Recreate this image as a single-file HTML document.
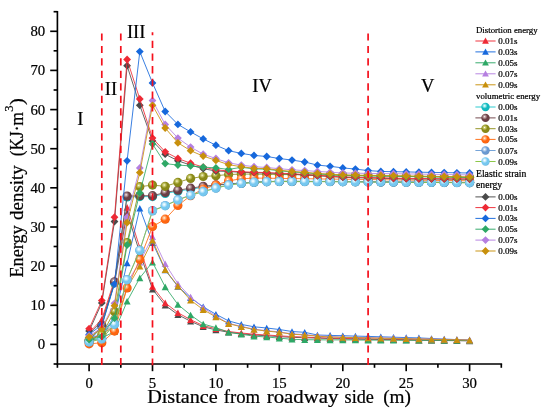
<!DOCTYPE html>
<html><head><meta charset="utf-8"><title>Energy density chart</title>
<style>html,body{margin:0;padding:0;background:#fff}body{width:550px;height:412px;overflow:hidden}</style></head>
<body>
<svg width="550" height="412" viewBox="0 0 550 412" style="display:block">
<defs>
<radialGradient id="g00" cx="0.39" cy="0.36" r="0.68"><stop offset="0" stop-color="#ffffff"/><stop offset="0.14" stop-color="#b8f4f4"/><stop offset="0.5" stop-color="#12b9bf"/><stop offset="0.8" stop-color="#12b9bf"/><stop offset="1" stop-color="#0fa2a8"/></radialGradient>
<radialGradient id="g01" cx="0.39" cy="0.36" r="0.68"><stop offset="0" stop-color="#ffffff"/><stop offset="0.14" stop-color="#c9aeb0"/><stop offset="0.5" stop-color="#6b3f45"/><stop offset="0.8" stop-color="#6b3f45"/><stop offset="1" stop-color="#5e373c"/></radialGradient>
<radialGradient id="g03" cx="0.39" cy="0.36" r="0.68"><stop offset="0" stop-color="#ffffff"/><stop offset="0.14" stop-color="#d6d67e"/><stop offset="0.5" stop-color="#8a8a18"/><stop offset="0.8" stop-color="#8a8a18"/><stop offset="1" stop-color="#797915"/></radialGradient>
<radialGradient id="g05" cx="0.39" cy="0.36" r="0.68"><stop offset="0" stop-color="#ffffff"/><stop offset="0.14" stop-color="#ffc89a"/><stop offset="0.5" stop-color="#ff6510"/><stop offset="0.8" stop-color="#ff6510"/><stop offset="1" stop-color="#e0580e"/></radialGradient>
<radialGradient id="g07" cx="0.39" cy="0.36" r="0.68"><stop offset="0" stop-color="#ffffff"/><stop offset="0.14" stop-color="#d4e4f6"/><stop offset="0.5" stop-color="#6a9ad2"/><stop offset="0.8" stop-color="#6a9ad2"/><stop offset="1" stop-color="#5d87b8"/></radialGradient>
<radialGradient id="g09" cx="0.39" cy="0.36" r="0.68"><stop offset="0" stop-color="#ffffff"/><stop offset="0.14" stop-color="#e4f6fe"/><stop offset="0.5" stop-color="#76c8f0"/><stop offset="0.8" stop-color="#76c8f0"/><stop offset="1" stop-color="#67b0d3"/></radialGradient>
</defs>
<rect width="550" height="412" fill="#fff"/>
<polyline points="89.1,334.2 101.8,321.3 114.5,283.3 127.1,212.9 139.8,252.8 152.5,289.2 165.2,305.3 177.9,314.7 190.6,321.3 203.2,326.8 215.9,329.9 228.6,332.3 241.3,333.8 254.0,335.0 266.7,335.8 279.3,336.6 292.0,337.4 304.7,337.7 317.4,338.1 330.1,338.5 342.8,338.9 355.4,339.1 368.1,339.3 380.8,339.5 393.5,339.7 406.2,339.9 418.9,340.1 431.5,340.3 444.2,340.5 456.9,340.7 469.6,340.9" fill="none" stroke="#4a4a4a" stroke-width="0.85" stroke-linejoin="round"/>
<path d="M89.1,330.9L92.6,337.5L85.6,337.5Z" fill="#4a4a4a"/>
<path d="M101.8,318.0L105.3,324.6L98.3,324.6Z" fill="#4a4a4a"/>
<path d="M114.5,280.0L118.0,286.6L111.0,286.6Z" fill="#4a4a4a"/>
<path d="M127.1,209.6L130.6,216.2L123.6,216.2Z" fill="#4a4a4a"/>
<path d="M139.8,249.5L143.3,256.1L136.3,256.1Z" fill="#4a4a4a"/>
<path d="M152.5,285.9L156.0,292.5L149.0,292.5Z" fill="#4a4a4a"/>
<path d="M165.2,302.0L168.7,308.6L161.7,308.6Z" fill="#4a4a4a"/>
<path d="M177.9,311.4L181.4,318.0L174.4,318.0Z" fill="#4a4a4a"/>
<path d="M190.6,318.0L194.1,324.6L187.1,324.6Z" fill="#4a4a4a"/>
<path d="M203.2,323.5L206.7,330.1L199.7,330.1Z" fill="#4a4a4a"/>
<path d="M215.9,326.6L219.4,333.2L212.4,333.2Z" fill="#4a4a4a"/>
<path d="M228.6,329.0L232.1,335.6L225.1,335.6Z" fill="#4a4a4a"/>
<path d="M241.3,330.5L244.8,337.1L237.8,337.1Z" fill="#4a4a4a"/>
<path d="M254.0,331.7L257.5,338.3L250.5,338.3Z" fill="#4a4a4a"/>
<path d="M266.7,332.5L270.2,339.1L263.2,339.1Z" fill="#4a4a4a"/>
<path d="M279.3,333.3L282.8,339.9L275.8,339.9Z" fill="#4a4a4a"/>
<path d="M292.0,334.1L295.5,340.7L288.5,340.7Z" fill="#4a4a4a"/>
<path d="M304.7,334.4L308.2,341.0L301.2,341.0Z" fill="#4a4a4a"/>
<path d="M317.4,334.8L320.9,341.4L313.9,341.4Z" fill="#4a4a4a"/>
<path d="M330.1,335.2L333.6,341.8L326.6,341.8Z" fill="#4a4a4a"/>
<path d="M342.8,335.6L346.3,342.2L339.3,342.2Z" fill="#4a4a4a"/>
<path d="M355.4,335.8L358.9,342.4L351.9,342.4Z" fill="#4a4a4a"/>
<path d="M368.1,336.0L371.6,342.6L364.6,342.6Z" fill="#4a4a4a"/>
<path d="M380.8,336.2L384.3,342.8L377.3,342.8Z" fill="#4a4a4a"/>
<path d="M393.5,336.4L397.0,343.0L390.0,343.0Z" fill="#4a4a4a"/>
<path d="M406.2,336.6L409.7,343.2L402.7,343.2Z" fill="#4a4a4a"/>
<path d="M418.9,336.8L422.4,343.4L415.4,343.4Z" fill="#4a4a4a"/>
<path d="M431.5,337.0L435.0,343.6L428.0,343.6Z" fill="#4a4a4a"/>
<path d="M444.2,337.2L447.7,343.8L440.7,343.8Z" fill="#4a4a4a"/>
<path d="M456.9,337.4L460.4,344.0L453.4,344.0Z" fill="#4a4a4a"/>
<path d="M469.6,337.6L473.1,344.2L466.1,344.2Z" fill="#4a4a4a"/>
<polyline points="89.1,332.7 101.8,319.4 114.5,279.8 127.1,207.4 139.8,247.7 152.5,286.5 165.2,302.9 177.9,312.7 190.6,319.7 203.2,325.6 215.9,328.7 228.6,331.5 241.3,333.0 254.0,334.2 266.7,335.0 279.3,335.8 292.0,336.6 304.7,337.0 317.4,337.7 330.1,338.1 342.8,338.4 355.4,338.7 368.1,338.9 380.8,339.2 393.5,339.4 406.2,339.7 418.9,339.9 431.5,340.0 444.2,340.2 456.9,340.3 469.6,340.5" fill="none" stroke="#ee2a35" stroke-width="0.85" stroke-linejoin="round"/>
<path d="M89.1,329.4L92.6,336.0L85.6,336.0Z" fill="#ee2a35"/>
<path d="M101.8,316.1L105.3,322.7L98.3,322.7Z" fill="#ee2a35"/>
<path d="M114.5,276.5L118.0,283.1L111.0,283.1Z" fill="#ee2a35"/>
<path d="M127.1,204.1L130.6,210.7L123.6,210.7Z" fill="#ee2a35"/>
<path d="M139.8,244.4L143.3,251.0L136.3,251.0Z" fill="#ee2a35"/>
<path d="M152.5,283.2L156.0,289.8L149.0,289.8Z" fill="#ee2a35"/>
<path d="M165.2,299.6L168.7,306.2L161.7,306.2Z" fill="#ee2a35"/>
<path d="M177.9,309.4L181.4,316.0L174.4,316.0Z" fill="#ee2a35"/>
<path d="M190.6,316.4L194.1,323.0L187.1,323.0Z" fill="#ee2a35"/>
<path d="M203.2,322.3L206.7,328.9L199.7,328.9Z" fill="#ee2a35"/>
<path d="M215.9,325.4L219.4,332.0L212.4,332.0Z" fill="#ee2a35"/>
<path d="M228.6,328.2L232.1,334.8L225.1,334.8Z" fill="#ee2a35"/>
<path d="M241.3,329.7L244.8,336.3L237.8,336.3Z" fill="#ee2a35"/>
<path d="M254.0,330.9L257.5,337.5L250.5,337.5Z" fill="#ee2a35"/>
<path d="M266.7,331.7L270.2,338.3L263.2,338.3Z" fill="#ee2a35"/>
<path d="M279.3,332.5L282.8,339.1L275.8,339.1Z" fill="#ee2a35"/>
<path d="M292.0,333.3L295.5,339.9L288.5,339.9Z" fill="#ee2a35"/>
<path d="M304.7,333.7L308.2,340.3L301.2,340.3Z" fill="#ee2a35"/>
<path d="M317.4,334.4L320.9,341.0L313.9,341.0Z" fill="#ee2a35"/>
<path d="M330.1,334.8L333.6,341.4L326.6,341.4Z" fill="#ee2a35"/>
<path d="M342.8,335.1L346.3,341.7L339.3,341.7Z" fill="#ee2a35"/>
<path d="M355.4,335.4L358.9,342.0L351.9,342.0Z" fill="#ee2a35"/>
<path d="M368.1,335.6L371.6,342.2L364.6,342.2Z" fill="#ee2a35"/>
<path d="M380.8,335.9L384.3,342.5L377.3,342.5Z" fill="#ee2a35"/>
<path d="M393.5,336.1L397.0,342.7L390.0,342.7Z" fill="#ee2a35"/>
<path d="M406.2,336.4L409.7,343.0L402.7,343.0Z" fill="#ee2a35"/>
<path d="M418.9,336.6L422.4,343.2L415.4,343.2Z" fill="#ee2a35"/>
<path d="M431.5,336.7L435.0,343.3L428.0,343.3Z" fill="#ee2a35"/>
<path d="M444.2,336.9L447.7,343.5L440.7,343.5Z" fill="#ee2a35"/>
<path d="M456.9,337.0L460.4,343.6L453.4,343.6Z" fill="#ee2a35"/>
<path d="M469.6,337.2L473.1,343.8L466.1,343.8Z" fill="#ee2a35"/>
<polyline points="89.1,338.5 101.8,334.6 114.5,317.0 127.1,263.0 139.8,208.2 152.5,242.6 165.2,270.0 177.9,286.5 190.6,297.8 203.2,306.8 215.9,314.3 228.6,320.9 241.3,324.4 254.0,326.8 266.7,328.0 279.3,329.5 292.0,331.5 304.7,332.3 317.4,335.0 330.1,335.4 342.8,335.7 355.4,336.1 368.1,336.4 380.8,336.8 393.5,337.2 406.2,337.6 418.9,337.9 431.5,338.5 444.2,339.1 456.9,339.6 469.6,340.1" fill="none" stroke="#1668dc" stroke-width="0.85" stroke-linejoin="round"/>
<path d="M89.1,335.2L92.6,341.8L85.6,341.8Z" fill="#1668dc"/>
<path d="M101.8,331.3L105.3,337.9L98.3,337.9Z" fill="#1668dc"/>
<path d="M114.5,313.7L118.0,320.3L111.0,320.3Z" fill="#1668dc"/>
<path d="M127.1,259.7L130.6,266.3L123.6,266.3Z" fill="#1668dc"/>
<path d="M139.8,204.9L143.3,211.5L136.3,211.5Z" fill="#1668dc"/>
<path d="M152.5,239.3L156.0,245.9L149.0,245.9Z" fill="#1668dc"/>
<path d="M165.2,266.7L168.7,273.3L161.7,273.3Z" fill="#1668dc"/>
<path d="M177.9,283.2L181.4,289.8L174.4,289.8Z" fill="#1668dc"/>
<path d="M190.6,294.5L194.1,301.1L187.1,301.1Z" fill="#1668dc"/>
<path d="M203.2,303.5L206.7,310.1L199.7,310.1Z" fill="#1668dc"/>
<path d="M215.9,311.0L219.4,317.6L212.4,317.6Z" fill="#1668dc"/>
<path d="M228.6,317.6L232.1,324.2L225.1,324.2Z" fill="#1668dc"/>
<path d="M241.3,321.1L244.8,327.7L237.8,327.7Z" fill="#1668dc"/>
<path d="M254.0,323.5L257.5,330.1L250.5,330.1Z" fill="#1668dc"/>
<path d="M266.7,324.7L270.2,331.3L263.2,331.3Z" fill="#1668dc"/>
<path d="M279.3,326.2L282.8,332.8L275.8,332.8Z" fill="#1668dc"/>
<path d="M292.0,328.2L295.5,334.8L288.5,334.8Z" fill="#1668dc"/>
<path d="M304.7,329.0L308.2,335.6L301.2,335.6Z" fill="#1668dc"/>
<path d="M317.4,331.7L320.9,338.3L313.9,338.3Z" fill="#1668dc"/>
<path d="M330.1,332.1L333.6,338.7L326.6,338.7Z" fill="#1668dc"/>
<path d="M342.8,332.4L346.3,339.0L339.3,339.0Z" fill="#1668dc"/>
<path d="M355.4,332.8L358.9,339.4L351.9,339.4Z" fill="#1668dc"/>
<path d="M368.1,333.1L371.6,339.7L364.6,339.7Z" fill="#1668dc"/>
<path d="M380.8,333.5L384.3,340.1L377.3,340.1Z" fill="#1668dc"/>
<path d="M393.5,333.9L397.0,340.5L390.0,340.5Z" fill="#1668dc"/>
<path d="M406.2,334.3L409.7,340.9L402.7,340.9Z" fill="#1668dc"/>
<path d="M418.9,334.6L422.4,341.2L415.4,341.2Z" fill="#1668dc"/>
<path d="M431.5,335.2L435.0,341.8L428.0,341.8Z" fill="#1668dc"/>
<path d="M444.2,335.8L447.7,342.4L440.7,342.4Z" fill="#1668dc"/>
<path d="M456.9,336.3L460.4,342.9L453.4,342.9Z" fill="#1668dc"/>
<path d="M469.6,336.8L473.1,343.4L466.1,343.4Z" fill="#1668dc"/>
<polyline points="89.1,340.5 101.8,338.1 114.5,331.5 127.1,301.3 139.8,277.9 152.5,262.2 165.2,286.9 177.9,304.5 190.6,315.0 203.2,324.0 215.9,327.6 228.6,332.3 241.3,334.2 254.0,336.2 266.7,337.0 279.3,338.1 292.0,339.3 304.7,339.7 317.4,339.8 330.1,339.9 342.8,339.9 355.4,340.0 368.1,340.1 380.8,340.1 393.5,340.2 406.2,340.2 418.9,340.3 431.5,340.3 444.2,340.4 456.9,340.4 469.6,340.5" fill="none" stroke="#2ea866" stroke-width="0.85" stroke-linejoin="round"/>
<path d="M89.1,337.2L92.6,343.8L85.6,343.8Z" fill="#2ea866"/>
<path d="M101.8,334.8L105.3,341.4L98.3,341.4Z" fill="#2ea866"/>
<path d="M114.5,328.2L118.0,334.8L111.0,334.8Z" fill="#2ea866"/>
<path d="M127.1,298.0L130.6,304.6L123.6,304.6Z" fill="#2ea866"/>
<path d="M139.8,274.6L143.3,281.2L136.3,281.2Z" fill="#2ea866"/>
<path d="M152.5,258.9L156.0,265.5L149.0,265.5Z" fill="#2ea866"/>
<path d="M165.2,283.6L168.7,290.2L161.7,290.2Z" fill="#2ea866"/>
<path d="M177.9,301.2L181.4,307.8L174.4,307.8Z" fill="#2ea866"/>
<path d="M190.6,311.7L194.1,318.3L187.1,318.3Z" fill="#2ea866"/>
<path d="M203.2,320.7L206.7,327.3L199.7,327.3Z" fill="#2ea866"/>
<path d="M215.9,324.3L219.4,330.9L212.4,330.9Z" fill="#2ea866"/>
<path d="M228.6,329.0L232.1,335.6L225.1,335.6Z" fill="#2ea866"/>
<path d="M241.3,330.9L244.8,337.5L237.8,337.5Z" fill="#2ea866"/>
<path d="M254.0,332.9L257.5,339.5L250.5,339.5Z" fill="#2ea866"/>
<path d="M266.7,333.7L270.2,340.3L263.2,340.3Z" fill="#2ea866"/>
<path d="M279.3,334.8L282.8,341.4L275.8,341.4Z" fill="#2ea866"/>
<path d="M292.0,336.0L295.5,342.6L288.5,342.6Z" fill="#2ea866"/>
<path d="M304.7,336.4L308.2,343.0L301.2,343.0Z" fill="#2ea866"/>
<path d="M317.4,336.5L320.9,343.1L313.9,343.1Z" fill="#2ea866"/>
<path d="M330.1,336.6L333.6,343.2L326.6,343.2Z" fill="#2ea866"/>
<path d="M342.8,336.6L346.3,343.2L339.3,343.2Z" fill="#2ea866"/>
<path d="M355.4,336.7L358.9,343.3L351.9,343.3Z" fill="#2ea866"/>
<path d="M368.1,336.8L371.6,343.4L364.6,343.4Z" fill="#2ea866"/>
<path d="M380.8,336.8L384.3,343.4L377.3,343.4Z" fill="#2ea866"/>
<path d="M393.5,336.9L397.0,343.5L390.0,343.5Z" fill="#2ea866"/>
<path d="M406.2,336.9L409.7,343.5L402.7,343.5Z" fill="#2ea866"/>
<path d="M418.9,337.0L422.4,343.6L415.4,343.6Z" fill="#2ea866"/>
<path d="M431.5,337.0L435.0,343.6L428.0,343.6Z" fill="#2ea866"/>
<path d="M444.2,337.1L447.7,343.7L440.7,343.7Z" fill="#2ea866"/>
<path d="M456.9,337.1L460.4,343.7L453.4,343.7Z" fill="#2ea866"/>
<path d="M469.6,337.2L473.1,343.8L466.1,343.8Z" fill="#2ea866"/>
<polyline points="89.1,338.5 101.8,333.8 114.5,324.0 127.1,282.6 139.8,262.2 152.5,236.8 165.2,263.8 177.9,283.7 190.6,297.0 203.2,307.6 215.9,316.2 228.6,323.3 241.3,326.4 254.0,329.1 266.7,330.7 279.3,331.9 292.0,333.8 304.7,334.6 317.4,335.8 330.1,336.6 342.8,337.0 355.4,337.3 368.1,337.6 380.8,337.8 393.5,338.1 406.2,338.4 418.9,338.7 431.5,339.0 444.2,339.3 456.9,339.6 469.6,339.9" fill="none" stroke="#b57fe0" stroke-width="0.85" stroke-linejoin="round"/>
<path d="M89.1,335.2L92.6,341.8L85.6,341.8Z" fill="#b57fe0"/>
<path d="M101.8,330.5L105.3,337.1L98.3,337.1Z" fill="#b57fe0"/>
<path d="M114.5,320.7L118.0,327.3L111.0,327.3Z" fill="#b57fe0"/>
<path d="M127.1,279.3L130.6,285.9L123.6,285.9Z" fill="#b57fe0"/>
<path d="M139.8,258.9L143.3,265.5L136.3,265.5Z" fill="#b57fe0"/>
<path d="M152.5,233.5L156.0,240.1L149.0,240.1Z" fill="#b57fe0"/>
<path d="M165.2,260.5L168.7,267.1L161.7,267.1Z" fill="#b57fe0"/>
<path d="M177.9,280.4L181.4,287.0L174.4,287.0Z" fill="#b57fe0"/>
<path d="M190.6,293.7L194.1,300.3L187.1,300.3Z" fill="#b57fe0"/>
<path d="M203.2,304.3L206.7,310.9L199.7,310.9Z" fill="#b57fe0"/>
<path d="M215.9,312.9L219.4,319.5L212.4,319.5Z" fill="#b57fe0"/>
<path d="M228.6,320.0L232.1,326.6L225.1,326.6Z" fill="#b57fe0"/>
<path d="M241.3,323.1L244.8,329.7L237.8,329.7Z" fill="#b57fe0"/>
<path d="M254.0,325.8L257.5,332.4L250.5,332.4Z" fill="#b57fe0"/>
<path d="M266.7,327.4L270.2,334.0L263.2,334.0Z" fill="#b57fe0"/>
<path d="M279.3,328.6L282.8,335.2L275.8,335.2Z" fill="#b57fe0"/>
<path d="M292.0,330.5L295.5,337.1L288.5,337.1Z" fill="#b57fe0"/>
<path d="M304.7,331.3L308.2,337.9L301.2,337.9Z" fill="#b57fe0"/>
<path d="M317.4,332.5L320.9,339.1L313.9,339.1Z" fill="#b57fe0"/>
<path d="M330.1,333.3L333.6,339.9L326.6,339.9Z" fill="#b57fe0"/>
<path d="M342.8,333.7L346.3,340.3L339.3,340.3Z" fill="#b57fe0"/>
<path d="M355.4,334.0L358.9,340.6L351.9,340.6Z" fill="#b57fe0"/>
<path d="M368.1,334.3L371.6,340.9L364.6,340.9Z" fill="#b57fe0"/>
<path d="M380.8,334.5L384.3,341.1L377.3,341.1Z" fill="#b57fe0"/>
<path d="M393.5,334.8L397.0,341.4L390.0,341.4Z" fill="#b57fe0"/>
<path d="M406.2,335.1L409.7,341.7L402.7,341.7Z" fill="#b57fe0"/>
<path d="M418.9,335.4L422.4,342.0L415.4,342.0Z" fill="#b57fe0"/>
<path d="M431.5,335.7L435.0,342.3L428.0,342.3Z" fill="#b57fe0"/>
<path d="M444.2,336.0L447.7,342.6L440.7,342.6Z" fill="#b57fe0"/>
<path d="M456.9,336.3L460.4,342.9L453.4,342.9Z" fill="#b57fe0"/>
<path d="M469.6,336.6L473.1,343.2L466.1,343.2Z" fill="#b57fe0"/>
<polyline points="89.1,339.3 101.8,334.6 114.5,325.6 127.1,288.0 139.8,266.1 152.5,240.3 165.2,269.6 177.9,286.1 190.6,300.2 203.2,309.6 215.9,317.0 228.6,323.7 241.3,326.8 254.0,329.5 266.7,331.1 279.3,332.3 292.0,334.2 304.7,335.0 317.4,336.2 330.1,337.0 342.8,337.4 355.4,337.6 368.1,337.9 380.8,338.2 393.5,338.5 406.2,338.7 418.9,339.0 431.5,339.3 444.2,339.5 456.9,339.8 469.6,340.1" fill="none" stroke="#c8900c" stroke-width="0.85" stroke-linejoin="round"/>
<path d="M89.1,336.0L92.6,342.6L85.6,342.6Z" fill="#c8900c"/>
<path d="M101.8,331.3L105.3,337.9L98.3,337.9Z" fill="#c8900c"/>
<path d="M114.5,322.3L118.0,328.9L111.0,328.9Z" fill="#c8900c"/>
<path d="M127.1,284.7L130.6,291.3L123.6,291.3Z" fill="#c8900c"/>
<path d="M139.8,262.8L143.3,269.4L136.3,269.4Z" fill="#c8900c"/>
<path d="M152.5,237.0L156.0,243.6L149.0,243.6Z" fill="#c8900c"/>
<path d="M165.2,266.3L168.7,272.9L161.7,272.9Z" fill="#c8900c"/>
<path d="M177.9,282.8L181.4,289.4L174.4,289.4Z" fill="#c8900c"/>
<path d="M190.6,296.9L194.1,303.5L187.1,303.5Z" fill="#c8900c"/>
<path d="M203.2,306.3L206.7,312.9L199.7,312.9Z" fill="#c8900c"/>
<path d="M215.9,313.7L219.4,320.3L212.4,320.3Z" fill="#c8900c"/>
<path d="M228.6,320.4L232.1,327.0L225.1,327.0Z" fill="#c8900c"/>
<path d="M241.3,323.5L244.8,330.1L237.8,330.1Z" fill="#c8900c"/>
<path d="M254.0,326.2L257.5,332.8L250.5,332.8Z" fill="#c8900c"/>
<path d="M266.7,327.8L270.2,334.4L263.2,334.4Z" fill="#c8900c"/>
<path d="M279.3,329.0L282.8,335.6L275.8,335.6Z" fill="#c8900c"/>
<path d="M292.0,330.9L295.5,337.5L288.5,337.5Z" fill="#c8900c"/>
<path d="M304.7,331.7L308.2,338.3L301.2,338.3Z" fill="#c8900c"/>
<path d="M317.4,332.9L320.9,339.5L313.9,339.5Z" fill="#c8900c"/>
<path d="M330.1,333.7L333.6,340.3L326.6,340.3Z" fill="#c8900c"/>
<path d="M342.8,334.1L346.3,340.7L339.3,340.7Z" fill="#c8900c"/>
<path d="M355.4,334.3L358.9,340.9L351.9,340.9Z" fill="#c8900c"/>
<path d="M368.1,334.6L371.6,341.2L364.6,341.2Z" fill="#c8900c"/>
<path d="M380.8,334.9L384.3,341.5L377.3,341.5Z" fill="#c8900c"/>
<path d="M393.5,335.2L397.0,341.8L390.0,341.8Z" fill="#c8900c"/>
<path d="M406.2,335.4L409.7,342.0L402.7,342.0Z" fill="#c8900c"/>
<path d="M418.9,335.7L422.4,342.3L415.4,342.3Z" fill="#c8900c"/>
<path d="M431.5,336.0L435.0,342.6L428.0,342.6Z" fill="#c8900c"/>
<path d="M444.2,336.2L447.7,342.8L440.7,342.8Z" fill="#c8900c"/>
<path d="M456.9,336.5L460.4,343.1L453.4,343.1Z" fill="#c8900c"/>
<path d="M469.6,336.8L473.1,343.4L466.1,343.4Z" fill="#c8900c"/>
<polyline points="89.1,341.5 101.8,326.6 114.5,282.8 127.1,197.0 139.8,196.6 152.5,196.6 165.2,193.5 177.9,191.2 190.6,189.2 203.2,187.3 215.9,185.9 228.6,183.5 241.3,183.3 254.0,182.2 266.7,181.6 279.3,181.4 292.0,181.4 304.7,181.5 317.4,181.5 330.1,181.5 342.8,181.6 355.4,181.7 368.1,181.8 380.8,181.9 393.5,182.0 406.2,182.2 418.9,182.2 431.5,182.3 444.2,182.4 456.9,182.5 469.6,182.6" fill="none" stroke="#22c8cc" stroke-width="0.85" stroke-linejoin="round"/>
<circle cx="89.1" cy="341.5" r="4.6" fill="url(#g00)"/>
<circle cx="101.8" cy="326.6" r="4.6" fill="url(#g00)"/>
<circle cx="114.5" cy="282.8" r="4.6" fill="url(#g00)"/>
<circle cx="127.1" cy="197.0" r="4.6" fill="url(#g00)"/>
<circle cx="139.8" cy="196.6" r="4.6" fill="url(#g00)"/>
<circle cx="152.5" cy="196.6" r="4.6" fill="url(#g00)"/>
<circle cx="165.2" cy="193.5" r="4.6" fill="url(#g00)"/>
<circle cx="177.9" cy="191.2" r="4.6" fill="url(#g00)"/>
<circle cx="190.6" cy="189.2" r="4.6" fill="url(#g00)"/>
<circle cx="203.2" cy="187.3" r="4.6" fill="url(#g00)"/>
<circle cx="215.9" cy="185.9" r="4.6" fill="url(#g00)"/>
<circle cx="228.6" cy="183.5" r="4.6" fill="url(#g00)"/>
<circle cx="241.3" cy="183.3" r="4.6" fill="url(#g00)"/>
<circle cx="254.0" cy="182.2" r="4.6" fill="url(#g00)"/>
<circle cx="266.7" cy="181.6" r="4.6" fill="url(#g00)"/>
<circle cx="279.3" cy="181.4" r="4.6" fill="url(#g00)"/>
<circle cx="292.0" cy="181.4" r="4.6" fill="url(#g00)"/>
<circle cx="304.7" cy="181.5" r="4.6" fill="url(#g00)"/>
<circle cx="317.4" cy="181.5" r="4.6" fill="url(#g00)"/>
<circle cx="330.1" cy="181.5" r="4.6" fill="url(#g00)"/>
<circle cx="342.8" cy="181.6" r="4.6" fill="url(#g00)"/>
<circle cx="355.4" cy="181.7" r="4.6" fill="url(#g00)"/>
<circle cx="368.1" cy="181.8" r="4.6" fill="url(#g00)"/>
<circle cx="380.8" cy="181.9" r="4.6" fill="url(#g00)"/>
<circle cx="393.5" cy="182.0" r="4.6" fill="url(#g00)"/>
<circle cx="406.2" cy="182.2" r="4.6" fill="url(#g00)"/>
<circle cx="418.9" cy="182.2" r="4.6" fill="url(#g00)"/>
<circle cx="431.5" cy="182.3" r="4.6" fill="url(#g00)"/>
<circle cx="444.2" cy="182.4" r="4.6" fill="url(#g00)"/>
<circle cx="456.9" cy="182.5" r="4.6" fill="url(#g00)"/>
<circle cx="469.6" cy="182.6" r="4.6" fill="url(#g00)"/>
<polyline points="89.1,340.5 101.8,325.6 114.5,281.8 127.1,196.1 139.8,195.7 152.5,195.7 165.2,192.5 177.9,190.2 190.6,188.2 203.2,186.3 215.9,184.9 228.6,183.9 241.3,183.3 254.0,182.2 266.7,181.6 279.3,181.4 292.0,181.4 304.7,181.5 317.4,181.5 330.1,181.5 342.8,181.6 355.4,181.7 368.1,181.8 380.8,181.9 393.5,182.0 406.2,182.2 418.9,182.2 431.5,182.3 444.2,182.4 456.9,182.5 469.6,182.6" fill="none" stroke="#6f4248" stroke-width="0.85" stroke-linejoin="round"/>
<circle cx="89.1" cy="340.5" r="4.6" fill="url(#g01)"/>
<circle cx="101.8" cy="325.6" r="4.6" fill="url(#g01)"/>
<circle cx="114.5" cy="281.8" r="4.6" fill="url(#g01)"/>
<circle cx="127.1" cy="196.1" r="4.6" fill="url(#g01)"/>
<circle cx="139.8" cy="195.7" r="4.6" fill="url(#g01)"/>
<circle cx="152.5" cy="195.7" r="4.6" fill="url(#g01)"/>
<circle cx="165.2" cy="192.5" r="4.6" fill="url(#g01)"/>
<circle cx="177.9" cy="190.2" r="4.6" fill="url(#g01)"/>
<circle cx="190.6" cy="188.2" r="4.6" fill="url(#g01)"/>
<circle cx="203.2" cy="186.3" r="4.6" fill="url(#g01)"/>
<circle cx="215.9" cy="184.9" r="4.6" fill="url(#g01)"/>
<circle cx="228.6" cy="183.9" r="4.6" fill="url(#g01)"/>
<circle cx="241.3" cy="183.3" r="4.6" fill="url(#g01)"/>
<circle cx="254.0" cy="182.2" r="4.6" fill="url(#g01)"/>
<circle cx="266.7" cy="181.6" r="4.6" fill="url(#g01)"/>
<circle cx="279.3" cy="181.4" r="4.6" fill="url(#g01)"/>
<circle cx="292.0" cy="181.4" r="4.6" fill="url(#g01)"/>
<circle cx="304.7" cy="181.5" r="4.6" fill="url(#g01)"/>
<circle cx="317.4" cy="181.5" r="4.6" fill="url(#g01)"/>
<circle cx="330.1" cy="181.5" r="4.6" fill="url(#g01)"/>
<circle cx="342.8" cy="181.6" r="4.6" fill="url(#g01)"/>
<circle cx="355.4" cy="181.7" r="4.6" fill="url(#g01)"/>
<circle cx="368.1" cy="181.8" r="4.6" fill="url(#g01)"/>
<circle cx="380.8" cy="181.9" r="4.6" fill="url(#g01)"/>
<circle cx="393.5" cy="182.0" r="4.6" fill="url(#g01)"/>
<circle cx="406.2" cy="182.2" r="4.6" fill="url(#g01)"/>
<circle cx="418.9" cy="182.2" r="4.6" fill="url(#g01)"/>
<circle cx="431.5" cy="182.3" r="4.6" fill="url(#g01)"/>
<circle cx="444.2" cy="182.4" r="4.6" fill="url(#g01)"/>
<circle cx="456.9" cy="182.5" r="4.6" fill="url(#g01)"/>
<circle cx="469.6" cy="182.6" r="4.6" fill="url(#g01)"/>
<polyline points="89.1,340.5 101.8,334.6 114.5,311.5 127.1,242.6 139.8,186.7 152.5,185.1 165.2,186.3 177.9,182.4 190.6,178.4 203.2,176.5 215.9,175.7 228.6,174.5 241.3,174.1 254.0,174.1 266.7,174.3 279.3,174.5 292.0,174.6 304.7,174.8 317.4,175.0 330.1,175.1 342.8,175.3 355.4,175.5 368.1,175.7 380.8,175.9 393.5,176.1 406.2,176.3 418.9,176.5 431.5,176.7 444.2,176.9 456.9,177.1 469.6,177.3" fill="none" stroke="#8f8f1c" stroke-width="0.85" stroke-linejoin="round"/>
<circle cx="89.1" cy="340.5" r="4.6" fill="url(#g03)"/>
<circle cx="101.8" cy="334.6" r="4.6" fill="url(#g03)"/>
<circle cx="114.5" cy="311.5" r="4.6" fill="url(#g03)"/>
<circle cx="127.1" cy="242.6" r="4.6" fill="url(#g03)"/>
<circle cx="139.8" cy="186.7" r="4.6" fill="url(#g03)"/>
<circle cx="152.5" cy="185.1" r="4.6" fill="url(#g03)"/>
<circle cx="165.2" cy="186.3" r="4.6" fill="url(#g03)"/>
<circle cx="177.9" cy="182.4" r="4.6" fill="url(#g03)"/>
<circle cx="190.6" cy="178.4" r="4.6" fill="url(#g03)"/>
<circle cx="203.2" cy="176.5" r="4.6" fill="url(#g03)"/>
<circle cx="215.9" cy="175.7" r="4.6" fill="url(#g03)"/>
<circle cx="228.6" cy="174.5" r="4.6" fill="url(#g03)"/>
<circle cx="241.3" cy="174.1" r="4.6" fill="url(#g03)"/>
<circle cx="254.0" cy="174.1" r="4.6" fill="url(#g03)"/>
<circle cx="266.7" cy="174.3" r="4.6" fill="url(#g03)"/>
<circle cx="279.3" cy="174.5" r="4.6" fill="url(#g03)"/>
<circle cx="292.0" cy="174.6" r="4.6" fill="url(#g03)"/>
<circle cx="304.7" cy="174.8" r="4.6" fill="url(#g03)"/>
<circle cx="317.4" cy="175.0" r="4.6" fill="url(#g03)"/>
<circle cx="330.1" cy="175.1" r="4.6" fill="url(#g03)"/>
<circle cx="342.8" cy="175.3" r="4.6" fill="url(#g03)"/>
<circle cx="355.4" cy="175.5" r="4.6" fill="url(#g03)"/>
<circle cx="368.1" cy="175.7" r="4.6" fill="url(#g03)"/>
<circle cx="380.8" cy="175.9" r="4.6" fill="url(#g03)"/>
<circle cx="393.5" cy="176.1" r="4.6" fill="url(#g03)"/>
<circle cx="406.2" cy="176.3" r="4.6" fill="url(#g03)"/>
<circle cx="418.9" cy="176.5" r="4.6" fill="url(#g03)"/>
<circle cx="431.5" cy="176.7" r="4.6" fill="url(#g03)"/>
<circle cx="444.2" cy="176.9" r="4.6" fill="url(#g03)"/>
<circle cx="456.9" cy="177.1" r="4.6" fill="url(#g03)"/>
<circle cx="469.6" cy="177.3" r="4.6" fill="url(#g03)"/>
<polyline points="89.1,343.8 101.8,342.8 114.5,331.1 127.1,288.0 139.8,259.5 152.5,226.6 165.2,219.2 177.9,205.5 190.6,195.7 203.2,189.0 215.9,185.1 228.6,180.8 241.3,178.8 254.0,178.1 266.7,178.2 279.3,178.4 292.0,178.6 304.7,178.7 317.4,178.9 330.1,179.1 342.8,179.2 355.4,179.4 368.1,179.5 380.8,179.7 393.5,179.9 406.2,180.0 418.9,180.2 431.5,180.3 444.2,180.5 456.9,180.6 469.6,180.8" fill="none" stroke="#ff6a10" stroke-width="0.85" stroke-linejoin="round"/>
<circle cx="89.1" cy="343.8" r="4.6" fill="url(#g05)"/>
<circle cx="101.8" cy="342.8" r="4.6" fill="url(#g05)"/>
<circle cx="114.5" cy="331.1" r="4.6" fill="url(#g05)"/>
<circle cx="127.1" cy="288.0" r="4.6" fill="url(#g05)"/>
<circle cx="139.8" cy="259.5" r="4.6" fill="url(#g05)"/>
<circle cx="152.5" cy="226.6" r="4.6" fill="url(#g05)"/>
<circle cx="165.2" cy="219.2" r="4.6" fill="url(#g05)"/>
<circle cx="177.9" cy="205.5" r="4.6" fill="url(#g05)"/>
<circle cx="190.6" cy="195.7" r="4.6" fill="url(#g05)"/>
<circle cx="203.2" cy="189.0" r="4.6" fill="url(#g05)"/>
<circle cx="215.9" cy="185.1" r="4.6" fill="url(#g05)"/>
<circle cx="228.6" cy="180.8" r="4.6" fill="url(#g05)"/>
<circle cx="241.3" cy="178.8" r="4.6" fill="url(#g05)"/>
<circle cx="254.0" cy="178.1" r="4.6" fill="url(#g05)"/>
<circle cx="266.7" cy="178.2" r="4.6" fill="url(#g05)"/>
<circle cx="279.3" cy="178.4" r="4.6" fill="url(#g05)"/>
<circle cx="292.0" cy="178.6" r="4.6" fill="url(#g05)"/>
<circle cx="304.7" cy="178.7" r="4.6" fill="url(#g05)"/>
<circle cx="317.4" cy="178.9" r="4.6" fill="url(#g05)"/>
<circle cx="330.1" cy="179.1" r="4.6" fill="url(#g05)"/>
<circle cx="342.8" cy="179.2" r="4.6" fill="url(#g05)"/>
<circle cx="355.4" cy="179.4" r="4.6" fill="url(#g05)"/>
<circle cx="368.1" cy="179.5" r="4.6" fill="url(#g05)"/>
<circle cx="380.8" cy="179.7" r="4.6" fill="url(#g05)"/>
<circle cx="393.5" cy="179.9" r="4.6" fill="url(#g05)"/>
<circle cx="406.2" cy="180.0" r="4.6" fill="url(#g05)"/>
<circle cx="418.9" cy="180.2" r="4.6" fill="url(#g05)"/>
<circle cx="431.5" cy="180.3" r="4.6" fill="url(#g05)"/>
<circle cx="444.2" cy="180.5" r="4.6" fill="url(#g05)"/>
<circle cx="456.9" cy="180.6" r="4.6" fill="url(#g05)"/>
<circle cx="469.6" cy="180.8" r="4.6" fill="url(#g05)"/>
<polyline points="89.1,341.7 101.8,338.6 114.5,324.1 127.1,279.5 139.8,250.2 152.5,210.6 165.2,205.5 177.9,199.7 190.6,195.0 203.2,191.4 215.9,187.9 228.6,184.8 241.3,183.2 254.0,182.0 266.7,181.5 279.3,181.3 292.0,181.3 304.7,181.3 317.4,181.4 330.1,181.4 342.8,181.5 355.4,181.6 368.1,181.7 380.8,181.8 393.5,181.9 406.2,182.0 418.9,182.1 431.5,182.2 444.2,182.3 456.9,182.4 469.6,182.4" fill="none" stroke="#6f9fd6" stroke-width="0.85" stroke-linejoin="round"/>
<circle cx="89.1" cy="341.7" r="4.6" fill="url(#g07)"/>
<circle cx="101.8" cy="338.6" r="4.6" fill="url(#g07)"/>
<circle cx="114.5" cy="324.1" r="4.6" fill="url(#g07)"/>
<circle cx="127.1" cy="279.5" r="4.6" fill="url(#g07)"/>
<circle cx="139.8" cy="250.2" r="4.6" fill="url(#g07)"/>
<circle cx="152.5" cy="210.6" r="4.6" fill="url(#g07)"/>
<circle cx="165.2" cy="205.5" r="4.6" fill="url(#g07)"/>
<circle cx="177.9" cy="199.7" r="4.6" fill="url(#g07)"/>
<circle cx="190.6" cy="195.0" r="4.6" fill="url(#g07)"/>
<circle cx="203.2" cy="191.4" r="4.6" fill="url(#g07)"/>
<circle cx="215.9" cy="187.9" r="4.6" fill="url(#g07)"/>
<circle cx="228.6" cy="184.8" r="4.6" fill="url(#g07)"/>
<circle cx="241.3" cy="183.2" r="4.6" fill="url(#g07)"/>
<circle cx="254.0" cy="182.0" r="4.6" fill="url(#g07)"/>
<circle cx="266.7" cy="181.5" r="4.6" fill="url(#g07)"/>
<circle cx="279.3" cy="181.3" r="4.6" fill="url(#g07)"/>
<circle cx="292.0" cy="181.3" r="4.6" fill="url(#g07)"/>
<circle cx="304.7" cy="181.3" r="4.6" fill="url(#g07)"/>
<circle cx="317.4" cy="181.4" r="4.6" fill="url(#g07)"/>
<circle cx="330.1" cy="181.4" r="4.6" fill="url(#g07)"/>
<circle cx="342.8" cy="181.5" r="4.6" fill="url(#g07)"/>
<circle cx="355.4" cy="181.6" r="4.6" fill="url(#g07)"/>
<circle cx="368.1" cy="181.7" r="4.6" fill="url(#g07)"/>
<circle cx="380.8" cy="181.8" r="4.6" fill="url(#g07)"/>
<circle cx="393.5" cy="181.9" r="4.6" fill="url(#g07)"/>
<circle cx="406.2" cy="182.0" r="4.6" fill="url(#g07)"/>
<circle cx="418.9" cy="182.1" r="4.6" fill="url(#g07)"/>
<circle cx="431.5" cy="182.2" r="4.6" fill="url(#g07)"/>
<circle cx="444.2" cy="182.3" r="4.6" fill="url(#g07)"/>
<circle cx="456.9" cy="182.4" r="4.6" fill="url(#g07)"/>
<circle cx="469.6" cy="182.4" r="4.6" fill="url(#g07)"/>
<polyline points="89.1,342.1 101.8,338.9 114.5,324.4 127.1,279.8 139.8,250.5 152.5,210.9 165.2,205.8 177.9,200.0 190.6,195.3 203.2,191.8 215.9,188.2 228.6,185.1 241.3,183.5 254.0,182.4 266.7,181.8 279.3,181.6 292.0,181.6 304.7,181.7 317.4,181.7 330.1,181.7 342.8,181.8 355.4,181.9 368.1,182.0 380.8,182.1 393.5,182.2 406.2,182.4 418.9,182.4 431.5,182.5 444.2,182.6 456.9,182.7 469.6,182.8" fill="none" stroke="#86c440" stroke-width="0.85" stroke-linejoin="round"/>
<circle cx="89.1" cy="342.1" r="4.6" fill="url(#g09)"/>
<circle cx="101.8" cy="338.9" r="4.6" fill="url(#g09)"/>
<circle cx="114.5" cy="324.4" r="4.6" fill="url(#g09)"/>
<circle cx="127.1" cy="279.8" r="4.6" fill="url(#g09)"/>
<circle cx="139.8" cy="250.5" r="4.6" fill="url(#g09)"/>
<circle cx="152.5" cy="210.9" r="4.6" fill="url(#g09)"/>
<circle cx="165.2" cy="205.8" r="4.6" fill="url(#g09)"/>
<circle cx="177.9" cy="200.0" r="4.6" fill="url(#g09)"/>
<circle cx="190.6" cy="195.3" r="4.6" fill="url(#g09)"/>
<circle cx="203.2" cy="191.8" r="4.6" fill="url(#g09)"/>
<circle cx="215.9" cy="188.2" r="4.6" fill="url(#g09)"/>
<circle cx="228.6" cy="185.1" r="4.6" fill="url(#g09)"/>
<circle cx="241.3" cy="183.5" r="4.6" fill="url(#g09)"/>
<circle cx="254.0" cy="182.4" r="4.6" fill="url(#g09)"/>
<circle cx="266.7" cy="181.8" r="4.6" fill="url(#g09)"/>
<circle cx="279.3" cy="181.6" r="4.6" fill="url(#g09)"/>
<circle cx="292.0" cy="181.6" r="4.6" fill="url(#g09)"/>
<circle cx="304.7" cy="181.7" r="4.6" fill="url(#g09)"/>
<circle cx="317.4" cy="181.7" r="4.6" fill="url(#g09)"/>
<circle cx="330.1" cy="181.7" r="4.6" fill="url(#g09)"/>
<circle cx="342.8" cy="181.8" r="4.6" fill="url(#g09)"/>
<circle cx="355.4" cy="181.9" r="4.6" fill="url(#g09)"/>
<circle cx="368.1" cy="182.0" r="4.6" fill="url(#g09)"/>
<circle cx="380.8" cy="182.1" r="4.6" fill="url(#g09)"/>
<circle cx="393.5" cy="182.2" r="4.6" fill="url(#g09)"/>
<circle cx="406.2" cy="182.4" r="4.6" fill="url(#g09)"/>
<circle cx="418.9" cy="182.4" r="4.6" fill="url(#g09)"/>
<circle cx="431.5" cy="182.5" r="4.6" fill="url(#g09)"/>
<circle cx="444.2" cy="182.6" r="4.6" fill="url(#g09)"/>
<circle cx="456.9" cy="182.7" r="4.6" fill="url(#g09)"/>
<circle cx="469.6" cy="182.8" r="4.6" fill="url(#g09)"/>
<polyline points="89.1,331.1 101.8,302.9 114.5,221.5 127.1,65.7 139.8,105.3 152.5,140.9 165.2,154.2 177.9,160.8 190.6,165.1 203.2,168.7 215.9,171.0 228.6,171.5 241.3,172.3 254.0,172.7 266.7,173.0 279.3,173.6 292.0,174.2 304.7,175.0 317.4,175.8 330.1,176.6 342.8,177.4 355.4,177.7 368.1,178.0 380.8,178.3 393.5,178.6 406.2,178.9 418.9,179.0 431.5,179.1 444.2,179.2 456.9,179.2 469.6,179.3" fill="none" stroke="#4a4a4a" stroke-width="0.85" stroke-linejoin="round"/>
<path d="M89.1,327.2L93.0,331.1L89.1,335.0L85.2,331.1Z" fill="#4a4a4a"/>
<path d="M101.8,299.0L105.7,302.9L101.8,306.8L97.9,302.9Z" fill="#4a4a4a"/>
<path d="M114.5,217.6L118.4,221.5L114.5,225.4L110.6,221.5Z" fill="#4a4a4a"/>
<path d="M127.1,61.8L131.0,65.7L127.1,69.6L123.2,65.7Z" fill="#4a4a4a"/>
<path d="M139.8,101.4L143.7,105.3L139.8,109.2L135.9,105.3Z" fill="#4a4a4a"/>
<path d="M152.5,137.0L156.4,140.9L152.5,144.8L148.6,140.9Z" fill="#4a4a4a"/>
<path d="M165.2,150.3L169.1,154.2L165.2,158.1L161.3,154.2Z" fill="#4a4a4a"/>
<path d="M177.9,156.9L181.8,160.8L177.9,164.7L174.0,160.8Z" fill="#4a4a4a"/>
<path d="M190.6,161.2L194.5,165.1L190.6,169.0L186.7,165.1Z" fill="#4a4a4a"/>
<path d="M203.2,164.8L207.1,168.7L203.2,172.6L199.3,168.7Z" fill="#4a4a4a"/>
<path d="M215.9,167.1L219.8,171.0L215.9,174.9L212.0,171.0Z" fill="#4a4a4a"/>
<path d="M228.6,167.6L232.5,171.5L228.6,175.4L224.7,171.5Z" fill="#4a4a4a"/>
<path d="M241.3,168.4L245.2,172.3L241.3,176.2L237.4,172.3Z" fill="#4a4a4a"/>
<path d="M254.0,168.8L257.9,172.7L254.0,176.6L250.1,172.7Z" fill="#4a4a4a"/>
<path d="M266.7,169.1L270.6,173.0L266.7,176.9L262.8,173.0Z" fill="#4a4a4a"/>
<path d="M279.3,169.7L283.2,173.6L279.3,177.5L275.4,173.6Z" fill="#4a4a4a"/>
<path d="M292.0,170.3L295.9,174.2L292.0,178.1L288.1,174.2Z" fill="#4a4a4a"/>
<path d="M304.7,171.1L308.6,175.0L304.7,178.9L300.8,175.0Z" fill="#4a4a4a"/>
<path d="M317.4,171.9L321.3,175.8L317.4,179.7L313.5,175.8Z" fill="#4a4a4a"/>
<path d="M330.1,172.7L334.0,176.6L330.1,180.5L326.2,176.6Z" fill="#4a4a4a"/>
<path d="M342.8,173.5L346.7,177.4L342.8,181.3L338.9,177.4Z" fill="#4a4a4a"/>
<path d="M355.4,173.8L359.3,177.7L355.4,181.6L351.5,177.7Z" fill="#4a4a4a"/>
<path d="M368.1,174.1L372.0,178.0L368.1,181.9L364.2,178.0Z" fill="#4a4a4a"/>
<path d="M380.8,174.4L384.7,178.3L380.8,182.2L376.9,178.3Z" fill="#4a4a4a"/>
<path d="M393.5,174.7L397.4,178.6L393.5,182.5L389.6,178.6Z" fill="#4a4a4a"/>
<path d="M406.2,175.0L410.1,178.9L406.2,182.8L402.3,178.9Z" fill="#4a4a4a"/>
<path d="M418.9,175.1L422.8,179.0L418.9,182.9L415.0,179.0Z" fill="#4a4a4a"/>
<path d="M431.5,175.2L435.4,179.1L431.5,183.0L427.6,179.1Z" fill="#4a4a4a"/>
<path d="M444.2,175.3L448.1,179.2L444.2,183.1L440.3,179.2Z" fill="#4a4a4a"/>
<path d="M456.9,175.3L460.8,179.2L456.9,183.1L453.0,179.2Z" fill="#4a4a4a"/>
<path d="M469.6,175.4L473.5,179.3L469.6,183.2L465.7,179.3Z" fill="#4a4a4a"/>
<polyline points="89.1,328.7 101.8,300.6 114.5,217.2 127.1,59.5 139.8,99.0 152.5,138.1 165.2,151.8 177.9,158.5 190.6,163.2 203.2,167.1 215.9,169.8 228.6,171.0 241.3,171.8 254.0,172.2 266.7,172.6 279.3,173.2 292.0,173.7 304.7,174.5 317.4,175.3 330.1,176.1 342.8,176.9 355.4,177.2 368.1,177.5 380.8,177.8 393.5,178.1 406.2,178.4 418.9,178.5 431.5,178.6 444.2,178.7 456.9,178.8 469.6,178.8" fill="none" stroke="#ee2a35" stroke-width="0.85" stroke-linejoin="round"/>
<path d="M89.1,324.8L93.0,328.7L89.1,332.6L85.2,328.7Z" fill="#ee2a35"/>
<path d="M101.8,296.7L105.7,300.6L101.8,304.5L97.9,300.6Z" fill="#ee2a35"/>
<path d="M114.5,213.3L118.4,217.2L114.5,221.1L110.6,217.2Z" fill="#ee2a35"/>
<path d="M127.1,55.6L131.0,59.5L127.1,63.4L123.2,59.5Z" fill="#ee2a35"/>
<path d="M139.8,95.1L143.7,99.0L139.8,102.9L135.9,99.0Z" fill="#ee2a35"/>
<path d="M152.5,134.2L156.4,138.1L152.5,142.0L148.6,138.1Z" fill="#ee2a35"/>
<path d="M165.2,147.9L169.1,151.8L165.2,155.7L161.3,151.8Z" fill="#ee2a35"/>
<path d="M177.9,154.6L181.8,158.5L177.9,162.4L174.0,158.5Z" fill="#ee2a35"/>
<path d="M190.6,159.3L194.5,163.2L190.6,167.1L186.7,163.2Z" fill="#ee2a35"/>
<path d="M203.2,163.2L207.1,167.1L203.2,171.0L199.3,167.1Z" fill="#ee2a35"/>
<path d="M215.9,165.9L219.8,169.8L215.9,173.7L212.0,169.8Z" fill="#ee2a35"/>
<path d="M228.6,167.1L232.5,171.0L228.6,174.9L224.7,171.0Z" fill="#ee2a35"/>
<path d="M241.3,167.9L245.2,171.8L241.3,175.7L237.4,171.8Z" fill="#ee2a35"/>
<path d="M254.0,168.3L257.9,172.2L254.0,176.1L250.1,172.2Z" fill="#ee2a35"/>
<path d="M266.7,168.7L270.6,172.6L266.7,176.5L262.8,172.6Z" fill="#ee2a35"/>
<path d="M279.3,169.3L283.2,173.2L279.3,177.1L275.4,173.2Z" fill="#ee2a35"/>
<path d="M292.0,169.8L295.9,173.7L292.0,177.6L288.1,173.7Z" fill="#ee2a35"/>
<path d="M304.7,170.6L308.6,174.5L304.7,178.4L300.8,174.5Z" fill="#ee2a35"/>
<path d="M317.4,171.4L321.3,175.3L317.4,179.2L313.5,175.3Z" fill="#ee2a35"/>
<path d="M330.1,172.2L334.0,176.1L330.1,180.0L326.2,176.1Z" fill="#ee2a35"/>
<path d="M342.8,173.0L346.7,176.9L342.8,180.8L338.9,176.9Z" fill="#ee2a35"/>
<path d="M355.4,173.3L359.3,177.2L355.4,181.1L351.5,177.2Z" fill="#ee2a35"/>
<path d="M368.1,173.6L372.0,177.5L368.1,181.4L364.2,177.5Z" fill="#ee2a35"/>
<path d="M380.8,173.9L384.7,177.8L380.8,181.7L376.9,177.8Z" fill="#ee2a35"/>
<path d="M393.5,174.2L397.4,178.1L393.5,182.0L389.6,178.1Z" fill="#ee2a35"/>
<path d="M406.2,174.5L410.1,178.4L406.2,182.3L402.3,178.4Z" fill="#ee2a35"/>
<path d="M418.9,174.6L422.8,178.5L418.9,182.4L415.0,178.5Z" fill="#ee2a35"/>
<path d="M431.5,174.7L435.4,178.6L431.5,182.5L427.6,178.6Z" fill="#ee2a35"/>
<path d="M444.2,174.8L448.1,178.7L444.2,182.6L440.3,178.7Z" fill="#ee2a35"/>
<path d="M456.9,174.9L460.8,178.8L456.9,182.7L453.0,178.8Z" fill="#ee2a35"/>
<path d="M469.6,174.9L473.5,178.8L469.6,182.7L465.7,178.8Z" fill="#ee2a35"/>
<polyline points="89.1,334.6 101.8,324.8 114.5,284.1 127.1,160.8 139.8,51.6 152.5,82.9 165.2,111.5 177.9,124.4 190.6,131.9 203.2,138.9 215.9,145.2 228.6,150.7 241.3,153.4 254.0,155.4 266.7,156.5 279.3,158.5 292.0,160.1 304.7,162.0 317.4,165.1 330.1,166.3 342.8,167.9 355.4,169.1 368.1,170.6 380.8,171.4 393.5,171.7 406.2,171.9 418.9,172.2 431.5,172.4 444.2,172.6 456.9,172.8 469.6,173.0" fill="none" stroke="#1668dc" stroke-width="0.85" stroke-linejoin="round"/>
<path d="M89.1,330.7L93.0,334.6L89.1,338.5L85.2,334.6Z" fill="#1668dc"/>
<path d="M101.8,320.9L105.7,324.8L101.8,328.7L97.9,324.8Z" fill="#1668dc"/>
<path d="M114.5,280.2L118.4,284.1L114.5,288.0L110.6,284.1Z" fill="#1668dc"/>
<path d="M127.1,156.9L131.0,160.8L127.1,164.7L123.2,160.8Z" fill="#1668dc"/>
<path d="M139.8,47.7L143.7,51.6L139.8,55.5L135.9,51.6Z" fill="#1668dc"/>
<path d="M152.5,79.0L156.4,82.9L152.5,86.8L148.6,82.9Z" fill="#1668dc"/>
<path d="M165.2,107.6L169.1,111.5L165.2,115.4L161.3,111.5Z" fill="#1668dc"/>
<path d="M177.9,120.5L181.8,124.4L177.9,128.3L174.0,124.4Z" fill="#1668dc"/>
<path d="M190.6,128.0L194.5,131.9L190.6,135.8L186.7,131.9Z" fill="#1668dc"/>
<path d="M203.2,135.0L207.1,138.9L203.2,142.8L199.3,138.9Z" fill="#1668dc"/>
<path d="M215.9,141.3L219.8,145.2L215.9,149.1L212.0,145.2Z" fill="#1668dc"/>
<path d="M228.6,146.8L232.5,150.7L228.6,154.6L224.7,150.7Z" fill="#1668dc"/>
<path d="M241.3,149.5L245.2,153.4L241.3,157.3L237.4,153.4Z" fill="#1668dc"/>
<path d="M254.0,151.5L257.9,155.4L254.0,159.3L250.1,155.4Z" fill="#1668dc"/>
<path d="M266.7,152.6L270.6,156.5L266.7,160.4L262.8,156.5Z" fill="#1668dc"/>
<path d="M279.3,154.6L283.2,158.5L279.3,162.4L275.4,158.5Z" fill="#1668dc"/>
<path d="M292.0,156.2L295.9,160.1L292.0,164.0L288.1,160.1Z" fill="#1668dc"/>
<path d="M304.7,158.1L308.6,162.0L304.7,165.9L300.8,162.0Z" fill="#1668dc"/>
<path d="M317.4,161.2L321.3,165.1L317.4,169.0L313.5,165.1Z" fill="#1668dc"/>
<path d="M330.1,162.4L334.0,166.3L330.1,170.2L326.2,166.3Z" fill="#1668dc"/>
<path d="M342.8,164.0L346.7,167.9L342.8,171.8L338.9,167.9Z" fill="#1668dc"/>
<path d="M355.4,165.2L359.3,169.1L355.4,173.0L351.5,169.1Z" fill="#1668dc"/>
<path d="M368.1,166.7L372.0,170.6L368.1,174.5L364.2,170.6Z" fill="#1668dc"/>
<path d="M380.8,167.5L384.7,171.4L380.8,175.3L376.9,171.4Z" fill="#1668dc"/>
<path d="M393.5,167.8L397.4,171.7L393.5,175.6L389.6,171.7Z" fill="#1668dc"/>
<path d="M406.2,168.0L410.1,171.9L406.2,175.8L402.3,171.9Z" fill="#1668dc"/>
<path d="M418.9,168.3L422.8,172.2L418.9,176.1L415.0,172.2Z" fill="#1668dc"/>
<path d="M431.5,168.5L435.4,172.4L431.5,176.3L427.6,172.4Z" fill="#1668dc"/>
<path d="M444.2,168.7L448.1,172.6L444.2,176.5L440.3,172.6Z" fill="#1668dc"/>
<path d="M456.9,168.9L460.8,172.8L456.9,176.7L453.0,172.8Z" fill="#1668dc"/>
<path d="M469.6,169.1L473.5,173.0L469.6,176.9L465.7,173.0Z" fill="#1668dc"/>
<polyline points="89.1,339.7 101.8,336.6 114.5,318.2 127.1,245.0 139.8,192.9 152.5,144.0 165.2,163.6 177.9,165.1 190.6,165.9 203.2,167.1 215.9,167.9 228.6,169.4 241.3,167.3 254.0,168.9 266.7,169.2 279.3,170.8 292.0,172.0 304.7,172.8 317.4,173.9 330.1,174.7 342.8,175.5 355.4,175.7 368.1,175.9 380.8,176.1 393.5,176.3 406.2,176.5 418.9,176.7 431.5,176.9 444.2,177.1 456.9,177.3 469.6,177.5" fill="none" stroke="#2ea866" stroke-width="0.85" stroke-linejoin="round"/>
<path d="M89.1,335.8L93.0,339.7L89.1,343.6L85.2,339.7Z" fill="#2ea866"/>
<path d="M101.8,332.7L105.7,336.6L101.8,340.5L97.9,336.6Z" fill="#2ea866"/>
<path d="M114.5,314.3L118.4,318.2L114.5,322.1L110.6,318.2Z" fill="#2ea866"/>
<path d="M127.1,241.1L131.0,245.0L127.1,248.9L123.2,245.0Z" fill="#2ea866"/>
<path d="M139.8,189.0L143.7,192.9L139.8,196.8L135.9,192.9Z" fill="#2ea866"/>
<path d="M152.5,140.1L156.4,144.0L152.5,147.9L148.6,144.0Z" fill="#2ea866"/>
<path d="M165.2,159.7L169.1,163.6L165.2,167.5L161.3,163.6Z" fill="#2ea866"/>
<path d="M177.9,161.2L181.8,165.1L177.9,169.0L174.0,165.1Z" fill="#2ea866"/>
<path d="M190.6,162.0L194.5,165.9L190.6,169.8L186.7,165.9Z" fill="#2ea866"/>
<path d="M203.2,163.2L207.1,167.1L203.2,171.0L199.3,167.1Z" fill="#2ea866"/>
<path d="M215.9,164.0L219.8,167.9L215.9,171.8L212.0,167.9Z" fill="#2ea866"/>
<path d="M228.6,165.5L232.5,169.4L228.6,173.3L224.7,169.4Z" fill="#2ea866"/>
<path d="M241.3,163.4L245.2,167.3L241.3,171.2L237.4,167.3Z" fill="#2ea866"/>
<path d="M254.0,165.0L257.9,168.9L254.0,172.8L250.1,168.9Z" fill="#2ea866"/>
<path d="M266.7,165.3L270.6,169.2L266.7,173.1L262.8,169.2Z" fill="#2ea866"/>
<path d="M279.3,166.9L283.2,170.8L279.3,174.7L275.4,170.8Z" fill="#2ea866"/>
<path d="M292.0,168.1L295.9,172.0L292.0,175.9L288.1,172.0Z" fill="#2ea866"/>
<path d="M304.7,168.9L308.6,172.8L304.7,176.7L300.8,172.8Z" fill="#2ea866"/>
<path d="M317.4,170.0L321.3,173.9L317.4,177.8L313.5,173.9Z" fill="#2ea866"/>
<path d="M330.1,170.8L334.0,174.7L330.1,178.6L326.2,174.7Z" fill="#2ea866"/>
<path d="M342.8,171.6L346.7,175.5L342.8,179.4L338.9,175.5Z" fill="#2ea866"/>
<path d="M355.4,171.8L359.3,175.7L355.4,179.6L351.5,175.7Z" fill="#2ea866"/>
<path d="M368.1,172.0L372.0,175.9L368.1,179.8L364.2,175.9Z" fill="#2ea866"/>
<path d="M380.8,172.2L384.7,176.1L380.8,180.0L376.9,176.1Z" fill="#2ea866"/>
<path d="M393.5,172.4L397.4,176.3L393.5,180.2L389.6,176.3Z" fill="#2ea866"/>
<path d="M406.2,172.6L410.1,176.5L406.2,180.4L402.3,176.5Z" fill="#2ea866"/>
<path d="M418.9,172.8L422.8,176.7L418.9,180.6L415.0,176.7Z" fill="#2ea866"/>
<path d="M431.5,173.0L435.4,176.9L431.5,180.8L427.6,176.9Z" fill="#2ea866"/>
<path d="M444.2,173.2L448.1,177.1L444.2,181.0L440.3,177.1Z" fill="#2ea866"/>
<path d="M456.9,173.4L460.8,177.3L456.9,181.2L453.0,177.3Z" fill="#2ea866"/>
<path d="M469.6,173.6L473.5,177.5L469.6,181.4L465.7,177.5Z" fill="#2ea866"/>
<polyline points="89.1,335.8 101.8,328.0 114.5,303.3 127.1,217.2 139.8,167.9 152.5,100.6 165.2,124.4 177.9,138.1 190.6,147.1 203.2,154.2 215.9,158.5 228.6,162.8 241.3,165.1 254.0,166.7 266.7,167.5 279.3,168.7 292.0,169.8 304.7,170.6 317.4,171.4 330.1,172.2 342.8,173.0 355.4,173.2 368.1,173.4 380.8,173.6 393.5,173.7 406.2,173.9 418.9,174.1 431.5,174.3 444.2,174.5 456.9,174.7 469.6,174.9" fill="none" stroke="#b57fe0" stroke-width="0.85" stroke-linejoin="round"/>
<path d="M89.1,331.9L93.0,335.8L89.1,339.7L85.2,335.8Z" fill="#b57fe0"/>
<path d="M101.8,324.1L105.7,328.0L101.8,331.9L97.9,328.0Z" fill="#b57fe0"/>
<path d="M114.5,299.4L118.4,303.3L114.5,307.2L110.6,303.3Z" fill="#b57fe0"/>
<path d="M127.1,213.3L131.0,217.2L127.1,221.1L123.2,217.2Z" fill="#b57fe0"/>
<path d="M139.8,164.0L143.7,167.9L139.8,171.8L135.9,167.9Z" fill="#b57fe0"/>
<path d="M152.5,96.7L156.4,100.6L152.5,104.5L148.6,100.6Z" fill="#b57fe0"/>
<path d="M165.2,120.5L169.1,124.4L165.2,128.3L161.3,124.4Z" fill="#b57fe0"/>
<path d="M177.9,134.2L181.8,138.1L177.9,142.0L174.0,138.1Z" fill="#b57fe0"/>
<path d="M190.6,143.2L194.5,147.1L190.6,151.0L186.7,147.1Z" fill="#b57fe0"/>
<path d="M203.2,150.3L207.1,154.2L203.2,158.1L199.3,154.2Z" fill="#b57fe0"/>
<path d="M215.9,154.6L219.8,158.5L215.9,162.4L212.0,158.5Z" fill="#b57fe0"/>
<path d="M228.6,158.9L232.5,162.8L228.6,166.7L224.7,162.8Z" fill="#b57fe0"/>
<path d="M241.3,161.2L245.2,165.1L241.3,169.0L237.4,165.1Z" fill="#b57fe0"/>
<path d="M254.0,162.8L257.9,166.7L254.0,170.6L250.1,166.7Z" fill="#b57fe0"/>
<path d="M266.7,163.6L270.6,167.5L266.7,171.4L262.8,167.5Z" fill="#b57fe0"/>
<path d="M279.3,164.8L283.2,168.7L279.3,172.6L275.4,168.7Z" fill="#b57fe0"/>
<path d="M292.0,165.9L295.9,169.8L292.0,173.7L288.1,169.8Z" fill="#b57fe0"/>
<path d="M304.7,166.7L308.6,170.6L304.7,174.5L300.8,170.6Z" fill="#b57fe0"/>
<path d="M317.4,167.5L321.3,171.4L317.4,175.3L313.5,171.4Z" fill="#b57fe0"/>
<path d="M330.1,168.3L334.0,172.2L330.1,176.1L326.2,172.2Z" fill="#b57fe0"/>
<path d="M342.8,169.1L346.7,173.0L342.8,176.9L338.9,173.0Z" fill="#b57fe0"/>
<path d="M355.4,169.3L359.3,173.2L355.4,177.1L351.5,173.2Z" fill="#b57fe0"/>
<path d="M368.1,169.5L372.0,173.4L368.1,177.3L364.2,173.4Z" fill="#b57fe0"/>
<path d="M380.8,169.7L384.7,173.6L380.8,177.5L376.9,173.6Z" fill="#b57fe0"/>
<path d="M393.5,169.8L397.4,173.7L393.5,177.6L389.6,173.7Z" fill="#b57fe0"/>
<path d="M406.2,170.0L410.1,173.9L406.2,177.8L402.3,173.9Z" fill="#b57fe0"/>
<path d="M418.9,170.2L422.8,174.1L418.9,178.0L415.0,174.1Z" fill="#b57fe0"/>
<path d="M431.5,170.4L435.4,174.3L431.5,178.2L427.6,174.3Z" fill="#b57fe0"/>
<path d="M444.2,170.6L448.1,174.5L444.2,178.4L440.3,174.5Z" fill="#b57fe0"/>
<path d="M456.9,170.8L460.8,174.7L456.9,178.6L453.0,174.7Z" fill="#b57fe0"/>
<path d="M469.6,171.0L473.5,174.9L469.6,178.8L465.7,174.9Z" fill="#b57fe0"/>
<polyline points="89.1,337.0 101.8,329.1 114.5,305.7 127.1,222.7 139.8,172.6 152.5,105.3 165.2,128.0 177.9,142.8 190.6,150.7 203.2,156.1 215.9,160.4 228.6,164.7 241.3,166.7 254.0,168.3 266.7,168.7 279.3,170.2 292.0,171.4 304.7,172.2 317.4,173.4 330.1,174.1 342.8,174.9 355.4,175.1 368.1,175.3 380.8,175.5 393.5,175.7 406.2,175.9 418.9,176.1 431.5,176.3 444.2,176.5 456.9,176.7 469.6,176.9" fill="none" stroke="#c8900c" stroke-width="0.85" stroke-linejoin="round"/>
<path d="M89.1,333.1L93.0,337.0L89.1,340.9L85.2,337.0Z" fill="#c8900c"/>
<path d="M101.8,325.2L105.7,329.1L101.8,333.0L97.9,329.1Z" fill="#c8900c"/>
<path d="M114.5,301.8L118.4,305.7L114.5,309.6L110.6,305.7Z" fill="#c8900c"/>
<path d="M127.1,218.8L131.0,222.7L127.1,226.6L123.2,222.7Z" fill="#c8900c"/>
<path d="M139.8,168.7L143.7,172.6L139.8,176.5L135.9,172.6Z" fill="#c8900c"/>
<path d="M152.5,101.4L156.4,105.3L152.5,109.2L148.6,105.3Z" fill="#c8900c"/>
<path d="M165.2,124.1L169.1,128.0L165.2,131.9L161.3,128.0Z" fill="#c8900c"/>
<path d="M177.9,138.9L181.8,142.8L177.9,146.7L174.0,142.8Z" fill="#c8900c"/>
<path d="M190.6,146.8L194.5,150.7L190.6,154.6L186.7,150.7Z" fill="#c8900c"/>
<path d="M203.2,152.2L207.1,156.1L203.2,160.0L199.3,156.1Z" fill="#c8900c"/>
<path d="M215.9,156.5L219.8,160.4L215.9,164.3L212.0,160.4Z" fill="#c8900c"/>
<path d="M228.6,160.8L232.5,164.7L228.6,168.6L224.7,164.7Z" fill="#c8900c"/>
<path d="M241.3,162.8L245.2,166.7L241.3,170.6L237.4,166.7Z" fill="#c8900c"/>
<path d="M254.0,164.4L257.9,168.3L254.0,172.2L250.1,168.3Z" fill="#c8900c"/>
<path d="M266.7,164.8L270.6,168.7L266.7,172.6L262.8,168.7Z" fill="#c8900c"/>
<path d="M279.3,166.3L283.2,170.2L279.3,174.1L275.4,170.2Z" fill="#c8900c"/>
<path d="M292.0,167.5L295.9,171.4L292.0,175.3L288.1,171.4Z" fill="#c8900c"/>
<path d="M304.7,168.3L308.6,172.2L304.7,176.1L300.8,172.2Z" fill="#c8900c"/>
<path d="M317.4,169.5L321.3,173.4L317.4,177.3L313.5,173.4Z" fill="#c8900c"/>
<path d="M330.1,170.2L334.0,174.1L330.1,178.0L326.2,174.1Z" fill="#c8900c"/>
<path d="M342.8,171.0L346.7,174.9L342.8,178.8L338.9,174.9Z" fill="#c8900c"/>
<path d="M355.4,171.2L359.3,175.1L355.4,179.0L351.5,175.1Z" fill="#c8900c"/>
<path d="M368.1,171.4L372.0,175.3L368.1,179.2L364.2,175.3Z" fill="#c8900c"/>
<path d="M380.8,171.6L384.7,175.5L380.8,179.4L376.9,175.5Z" fill="#c8900c"/>
<path d="M393.5,171.8L397.4,175.7L393.5,179.6L389.6,175.7Z" fill="#c8900c"/>
<path d="M406.2,172.0L410.1,175.9L406.2,179.8L402.3,175.9Z" fill="#c8900c"/>
<path d="M418.9,172.2L422.8,176.1L418.9,180.0L415.0,176.1Z" fill="#c8900c"/>
<path d="M431.5,172.4L435.4,176.3L431.5,180.2L427.6,176.3Z" fill="#c8900c"/>
<path d="M444.2,172.6L448.1,176.5L444.2,180.4L440.3,176.5Z" fill="#c8900c"/>
<path d="M456.9,172.8L460.8,176.7L456.9,180.6L453.0,176.7Z" fill="#c8900c"/>
<path d="M469.6,173.0L473.5,176.9L469.6,180.8L465.7,176.9Z" fill="#c8900c"/>
<path d="M57.4,11.7V364.0H501.3" fill="none" stroke="#000" stroke-width="1.65" stroke-linecap="square"/>
<line x1="53.6" y1="364.0" x2="57.4" y2="364.0" stroke="#000" stroke-width="1.65"/>
<line x1="50.199999999999996" y1="344.4" x2="57.4" y2="344.4" stroke="#000" stroke-width="1.65"/>
<line x1="53.6" y1="324.8" x2="57.4" y2="324.8" stroke="#000" stroke-width="1.65"/>
<line x1="50.199999999999996" y1="305.3" x2="57.4" y2="305.3" stroke="#000" stroke-width="1.65"/>
<line x1="53.6" y1="285.7" x2="57.4" y2="285.7" stroke="#000" stroke-width="1.65"/>
<line x1="50.199999999999996" y1="266.1" x2="57.4" y2="266.1" stroke="#000" stroke-width="1.65"/>
<line x1="53.6" y1="246.5" x2="57.4" y2="246.5" stroke="#000" stroke-width="1.65"/>
<line x1="50.199999999999996" y1="227.0" x2="57.4" y2="227.0" stroke="#000" stroke-width="1.65"/>
<line x1="53.6" y1="207.4" x2="57.4" y2="207.4" stroke="#000" stroke-width="1.65"/>
<line x1="50.199999999999996" y1="187.8" x2="57.4" y2="187.8" stroke="#000" stroke-width="1.65"/>
<line x1="53.6" y1="168.3" x2="57.4" y2="168.3" stroke="#000" stroke-width="1.65"/>
<line x1="50.199999999999996" y1="148.7" x2="57.4" y2="148.7" stroke="#000" stroke-width="1.65"/>
<line x1="53.6" y1="129.1" x2="57.4" y2="129.1" stroke="#000" stroke-width="1.65"/>
<line x1="50.199999999999996" y1="109.6" x2="57.4" y2="109.6" stroke="#000" stroke-width="1.65"/>
<line x1="53.6" y1="90.0" x2="57.4" y2="90.0" stroke="#000" stroke-width="1.65"/>
<line x1="50.199999999999996" y1="70.4" x2="57.4" y2="70.4" stroke="#000" stroke-width="1.65"/>
<line x1="53.6" y1="50.8" x2="57.4" y2="50.8" stroke="#000" stroke-width="1.65"/>
<line x1="50.199999999999996" y1="31.3" x2="57.4" y2="31.3" stroke="#000" stroke-width="1.65"/>
<line x1="53.6" y1="11.7" x2="57.4" y2="11.7" stroke="#000" stroke-width="1.65"/>
<line x1="57.4" y1="364.0" x2="57.4" y2="367.8" stroke="#000" stroke-width="1.65"/>
<line x1="89.1" y1="364.0" x2="89.1" y2="371.2" stroke="#000" stroke-width="1.65"/>
<line x1="120.8" y1="364.0" x2="120.8" y2="367.8" stroke="#000" stroke-width="1.65"/>
<line x1="152.5" y1="364.0" x2="152.5" y2="371.2" stroke="#000" stroke-width="1.65"/>
<line x1="184.2" y1="364.0" x2="184.2" y2="367.8" stroke="#000" stroke-width="1.65"/>
<line x1="215.9" y1="364.0" x2="215.9" y2="371.2" stroke="#000" stroke-width="1.65"/>
<line x1="247.6" y1="364.0" x2="247.6" y2="367.8" stroke="#000" stroke-width="1.65"/>
<line x1="279.3" y1="364.0" x2="279.3" y2="371.2" stroke="#000" stroke-width="1.65"/>
<line x1="311.1" y1="364.0" x2="311.1" y2="367.8" stroke="#000" stroke-width="1.65"/>
<line x1="342.8" y1="364.0" x2="342.8" y2="371.2" stroke="#000" stroke-width="1.65"/>
<line x1="374.5" y1="364.0" x2="374.5" y2="367.8" stroke="#000" stroke-width="1.65"/>
<line x1="406.2" y1="364.0" x2="406.2" y2="371.2" stroke="#000" stroke-width="1.65"/>
<line x1="437.9" y1="364.0" x2="437.9" y2="367.8" stroke="#000" stroke-width="1.65"/>
<line x1="469.6" y1="364.0" x2="469.6" y2="371.2" stroke="#000" stroke-width="1.65"/>
<line x1="501.3" y1="364.0" x2="501.3" y2="367.8" stroke="#000" stroke-width="1.65"/>
<line x1="101.8" x2="101.8" y2="365.2" y1="33.4" stroke-dasharray="7.2 5.28" stroke="#f5101c" stroke-width="1.7"/>
<line x1="120.8" x2="120.8" y2="365.2" y1="33.4" stroke-dasharray="7.2 5.28" stroke="#f5101c" stroke-width="1.7"/>
<line x1="152.5" x2="152.5" y2="365.2" y1="32.3" stroke-dasharray="7.3 5.41" stroke-dashoffset="4.31" stroke="#f5101c" stroke-width="1.7"/>
<line x1="368.1" x2="368.1" y2="365.2" y1="33.4" stroke-dasharray="7.2 5.28" stroke="#f5101c" stroke-width="1.7"/>
<text x="45.2" y="349.3" font-family="Liberation Serif, serif" stroke="#000" stroke-width="0.22" font-size="14.8" text-anchor="end" fill="#000">0</text>
<text x="45.2" y="310.2" font-family="Liberation Serif, serif" stroke="#000" stroke-width="0.22" font-size="14.8" text-anchor="end" fill="#000">10</text>
<text x="45.2" y="271.0" font-family="Liberation Serif, serif" stroke="#000" stroke-width="0.22" font-size="14.8" text-anchor="end" fill="#000">20</text>
<text x="45.2" y="231.9" font-family="Liberation Serif, serif" stroke="#000" stroke-width="0.22" font-size="14.8" text-anchor="end" fill="#000">30</text>
<text x="45.2" y="192.7" font-family="Liberation Serif, serif" stroke="#000" stroke-width="0.22" font-size="14.8" text-anchor="end" fill="#000">40</text>
<text x="45.2" y="153.6" font-family="Liberation Serif, serif" stroke="#000" stroke-width="0.22" font-size="14.8" text-anchor="end" fill="#000">50</text>
<text x="45.2" y="114.5" font-family="Liberation Serif, serif" stroke="#000" stroke-width="0.22" font-size="14.8" text-anchor="end" fill="#000">60</text>
<text x="45.2" y="75.3" font-family="Liberation Serif, serif" stroke="#000" stroke-width="0.22" font-size="14.8" text-anchor="end" fill="#000">70</text>
<text x="45.2" y="36.2" font-family="Liberation Serif, serif" stroke="#000" stroke-width="0.22" font-size="14.8" text-anchor="end" fill="#000">80</text>
<text x="89.1" y="387.9" font-family="Liberation Serif, serif" stroke="#000" stroke-width="0.22" font-size="14.8" text-anchor="middle" fill="#000">0</text>
<text x="152.5" y="387.9" font-family="Liberation Serif, serif" stroke="#000" stroke-width="0.22" font-size="14.8" text-anchor="middle" fill="#000">5</text>
<text x="215.9" y="387.9" font-family="Liberation Serif, serif" stroke="#000" stroke-width="0.22" font-size="14.8" text-anchor="middle" fill="#000">10</text>
<text x="279.3" y="387.9" font-family="Liberation Serif, serif" stroke="#000" stroke-width="0.22" font-size="14.8" text-anchor="middle" fill="#000">15</text>
<text x="342.8" y="387.9" font-family="Liberation Serif, serif" stroke="#000" stroke-width="0.22" font-size="14.8" text-anchor="middle" fill="#000">20</text>
<text x="406.2" y="387.9" font-family="Liberation Serif, serif" stroke="#000" stroke-width="0.22" font-size="14.8" text-anchor="middle" fill="#000">25</text>
<text x="469.6" y="387.9" font-family="Liberation Serif, serif" stroke="#000" stroke-width="0.22" font-size="14.8" text-anchor="middle" fill="#000">30</text>
<g font-family="Liberation Serif, serif" stroke="#000" stroke-width="0.22" font-size="18" fill="#000"><text x="147.2" y="402.6" textLength="70.6" lengthAdjust="spacingAndGlyphs">Distance</text><text x="223.8" y="402.6" textLength="36.3" lengthAdjust="spacingAndGlyphs">from</text><text x="266.8" y="402.6" textLength="71.6" lengthAdjust="spacingAndGlyphs">roadway</text><text x="344.6" y="402.6" textLength="29.3" lengthAdjust="spacingAndGlyphs">side</text><text x="383.2" y="402.6" textLength="27.8" lengthAdjust="spacingAndGlyphs">(m)</text></g>
<g transform="translate(22.7,277.5) rotate(-90)" font-family="Liberation Serif, serif" stroke="#000" stroke-width="0.22" fill="#000" font-size="18"><text x="0" y="0" textLength="52.2" lengthAdjust="spacingAndGlyphs">Energy</text><text x="57.6" y="0" textLength="54.6" lengthAdjust="spacingAndGlyphs">density</text><text x="121.3" y="0" textLength="44" lengthAdjust="spacingAndGlyphs">(KJ·m</text><text x="165.8" y="-9.6" font-size="12.6">3</text><text x="172.6" y="0" textLength="6.9" lengthAdjust="spacingAndGlyphs">)</text></g>
<text x="80.4" y="125.2" font-family="Liberation Serif, serif" stroke="#000" stroke-width="0.22" font-size="18.5" text-anchor="middle" fill="#000">I</text>
<text x="111" y="94.6" font-family="Liberation Serif, serif" stroke="#000" stroke-width="0.22" font-size="18.5" text-anchor="middle" fill="#000">II</text>
<text x="136.2" y="37.7" font-family="Liberation Serif, serif" stroke="#000" stroke-width="0.22" font-size="18.5" text-anchor="middle" fill="#000">III</text>
<text x="262" y="92.2" font-family="Liberation Serif, serif" stroke="#000" stroke-width="0.22" font-size="18.5" text-anchor="middle" fill="#000">IV</text>
<text x="427.6" y="92.2" font-family="Liberation Serif, serif" stroke="#000" stroke-width="0.22" font-size="18.5" text-anchor="middle" fill="#000">V</text>
<text x="476" y="32.6" font-family="Liberation Serif, serif" stroke="#000" stroke-width="0.22" font-size="8.8" fill="#000">Distortion energy</text>
<line x1="475.4" y1="41.0" x2="495.6" y2="41.0" stroke="#ee2a35" stroke-width="0.95"/>
<path d="M485.5,37.6L488.9,43.8L482.1,43.8Z" fill="#ee2a35"/>
<text x="498.2" y="44.0" font-family="Liberation Serif, serif" stroke="#000" stroke-width="0.22" font-size="9" fill="#000">0.01s</text>
<line x1="475.4" y1="51.9" x2="495.6" y2="51.9" stroke="#1668dc" stroke-width="0.95"/>
<path d="M485.5,48.5L488.9,54.7L482.1,54.7Z" fill="#1668dc"/>
<text x="498.2" y="54.9" font-family="Liberation Serif, serif" stroke="#000" stroke-width="0.22" font-size="9" fill="#000">0.03s</text>
<line x1="475.4" y1="62.8" x2="495.6" y2="62.8" stroke="#2ea866" stroke-width="0.95"/>
<path d="M485.5,59.4L488.9,65.6L482.1,65.6Z" fill="#2ea866"/>
<text x="498.2" y="65.8" font-family="Liberation Serif, serif" stroke="#000" stroke-width="0.22" font-size="9" fill="#000">0.05s</text>
<line x1="475.4" y1="73.8" x2="495.6" y2="73.8" stroke="#b57fe0" stroke-width="0.95"/>
<path d="M485.5,70.4L488.9,76.6L482.1,76.6Z" fill="#b57fe0"/>
<text x="498.2" y="76.8" font-family="Liberation Serif, serif" stroke="#000" stroke-width="0.22" font-size="9" fill="#000">0.07s</text>
<line x1="475.4" y1="84.8" x2="495.6" y2="84.8" stroke="#c8900c" stroke-width="0.95"/>
<path d="M485.5,81.4L488.9,87.6L482.1,87.6Z" fill="#c8900c"/>
<text x="498.2" y="87.8" font-family="Liberation Serif, serif" stroke="#000" stroke-width="0.22" font-size="9" fill="#000">0.09s</text>
<text x="476" y="98.6" font-family="Liberation Serif, serif" stroke="#000" stroke-width="0.22" font-size="8.8" fill="#000">volumetric energy</text>
<line x1="475.4" y1="107.0" x2="495.6" y2="107.0" stroke="#22c8cc" stroke-width="0.95"/>
<circle cx="485.5" cy="107.0" r="4.2" fill="url(#g00)"/>
<text x="498.2" y="110.0" font-family="Liberation Serif, serif" stroke="#000" stroke-width="0.22" font-size="9" fill="#000">0.00s</text>
<line x1="475.4" y1="117.9" x2="495.6" y2="117.9" stroke="#6f4248" stroke-width="0.95"/>
<circle cx="485.5" cy="117.9" r="4.2" fill="url(#g01)"/>
<text x="498.2" y="120.9" font-family="Liberation Serif, serif" stroke="#000" stroke-width="0.22" font-size="9" fill="#000">0.01s</text>
<line x1="475.4" y1="128.7" x2="495.6" y2="128.7" stroke="#8f8f1c" stroke-width="0.95"/>
<circle cx="485.5" cy="128.7" r="4.2" fill="url(#g03)"/>
<text x="498.2" y="131.7" font-family="Liberation Serif, serif" stroke="#000" stroke-width="0.22" font-size="9" fill="#000">0.03s</text>
<line x1="475.4" y1="139.4" x2="495.6" y2="139.4" stroke="#ff6a10" stroke-width="0.95"/>
<circle cx="485.5" cy="139.4" r="4.2" fill="url(#g05)"/>
<text x="498.2" y="142.4" font-family="Liberation Serif, serif" stroke="#000" stroke-width="0.22" font-size="9" fill="#000">0.05s</text>
<line x1="475.4" y1="150.5" x2="495.6" y2="150.5" stroke="#6f9fd6" stroke-width="0.95"/>
<circle cx="485.5" cy="150.5" r="4.2" fill="url(#g07)"/>
<text x="498.2" y="153.5" font-family="Liberation Serif, serif" stroke="#000" stroke-width="0.22" font-size="9" fill="#000">0.07s</text>
<line x1="475.4" y1="161.5" x2="495.6" y2="161.5" stroke="#86c440" stroke-width="0.95"/>
<circle cx="485.5" cy="161.5" r="4.2" fill="url(#g09)"/>
<text x="498.2" y="164.5" font-family="Liberation Serif, serif" stroke="#000" stroke-width="0.22" font-size="9" fill="#000">0.09s</text>
<text x="476" y="176.9" font-family="Liberation Serif, serif" stroke="#000" stroke-width="0.22" font-size="9.7" fill="#000">Elastic strain</text>
<text x="476" y="187.9" font-family="Liberation Serif, serif" stroke="#000" stroke-width="0.22" font-size="9.7" fill="#000">energy</text>
<line x1="475.4" y1="196.9" x2="495.6" y2="196.9" stroke="#4a4a4a" stroke-width="0.95"/>
<path d="M485.5,193.0L489.4,196.9L485.5,200.8L481.6,196.9Z" fill="#4a4a4a"/>
<text x="498.2" y="199.9" font-family="Liberation Serif, serif" stroke="#000" stroke-width="0.22" font-size="9" fill="#000">0.00s</text>
<line x1="475.4" y1="207.6" x2="495.6" y2="207.6" stroke="#ee2a35" stroke-width="0.95"/>
<path d="M485.5,203.7L489.4,207.6L485.5,211.5L481.6,207.6Z" fill="#ee2a35"/>
<text x="498.2" y="210.6" font-family="Liberation Serif, serif" stroke="#000" stroke-width="0.22" font-size="9" fill="#000">0.01s</text>
<line x1="475.4" y1="218.4" x2="495.6" y2="218.4" stroke="#1668dc" stroke-width="0.95"/>
<path d="M485.5,214.5L489.4,218.4L485.5,222.3L481.6,218.4Z" fill="#1668dc"/>
<text x="498.2" y="221.4" font-family="Liberation Serif, serif" stroke="#000" stroke-width="0.22" font-size="9" fill="#000">0.03s</text>
<line x1="475.4" y1="229.2" x2="495.6" y2="229.2" stroke="#2ea866" stroke-width="0.95"/>
<path d="M485.5,225.3L489.4,229.2L485.5,233.1L481.6,229.2Z" fill="#2ea866"/>
<text x="498.2" y="232.2" font-family="Liberation Serif, serif" stroke="#000" stroke-width="0.22" font-size="9" fill="#000">0.05s</text>
<line x1="475.4" y1="240.1" x2="495.6" y2="240.1" stroke="#b57fe0" stroke-width="0.95"/>
<path d="M485.5,236.2L489.4,240.1L485.5,244.0L481.6,240.1Z" fill="#b57fe0"/>
<text x="498.2" y="243.1" font-family="Liberation Serif, serif" stroke="#000" stroke-width="0.22" font-size="9" fill="#000">0.07s</text>
<line x1="475.4" y1="251.0" x2="495.6" y2="251.0" stroke="#c8900c" stroke-width="0.95"/>
<path d="M485.5,247.1L489.4,251.0L485.5,254.9L481.6,251.0Z" fill="#c8900c"/>
<text x="498.2" y="254.0" font-family="Liberation Serif, serif" stroke="#000" stroke-width="0.22" font-size="9" fill="#000">0.09s</text>
</svg>
</body></html>
